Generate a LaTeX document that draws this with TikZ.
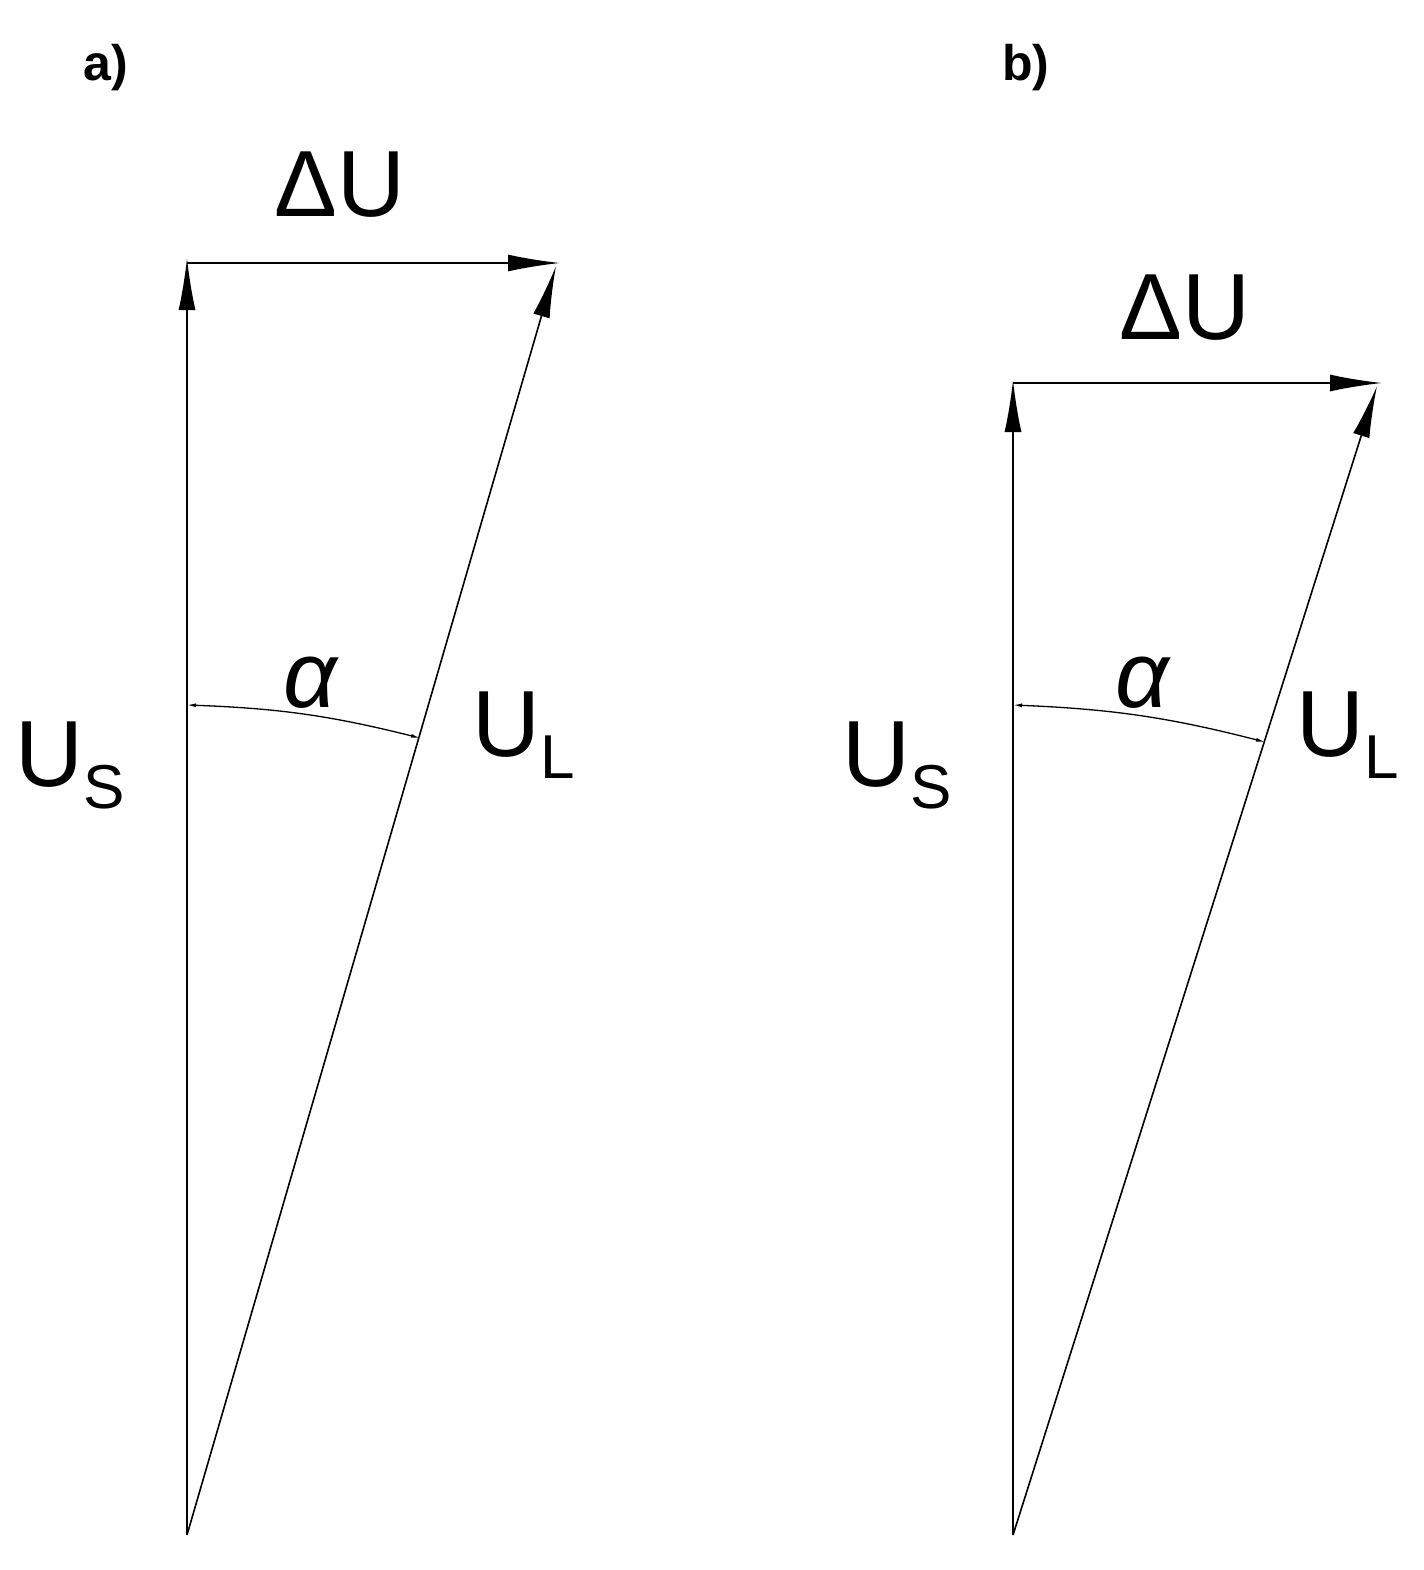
\documentclass[tikz,border=0pt]{standalone}
\usepackage{fontspec}
\setmainfont{Liberation Sans}
\usetikzlibrary{arrows.meta}
\begin{document}
\begin{tikzpicture}[x=1pt,y=-1pt,
  vec/.style={line width=1.6pt,-{Latex[length=52pt,width=17pt]}},
  arcs/.style={line width=1.3pt,{Latex[length=9pt,width=4pt]}-{Latex[length=9pt,width=4pt]}},
  big/.style={font=\fontsize{94}{98}\selectfont,inner sep=0pt},
  lab/.style={font=\bfseries\fontsize{50}{54}\selectfont,inner sep=0pt}]
\useasboundingbox (0,0) rectangle (1423,1570);
% a
\coordinate (oa) at (187,1535);
\coordinate (ta) at (187,258);
\coordinate (ha) at (187,263);
\coordinate (ea) at (560,263);
\coordinate (ua) at (556,266);
\draw[vec] (oa) -- (ta);
\draw[vec] (ha) -- (ea);
\draw[vec] (oa) -- (ua);
\coordinate (a1) at (187,705);
\coordinate (a2) at (420,738);
\draw[arcs] (a1) to[bend left=6] (a2);
\node[lab] (la) at (106,68) {a)};
\node[big] (du1) at (340,185) {ΔU};
\node[big] (al1) at (310,683) {\itshape α};
\node[big,anchor=west] (us1) at (15,765) {U\raisebox{-22pt}{\fontsize{62}{64}\selectfont S}};
\node[big,anchor=west] (ul1) at (472,735) {U\raisebox{-22pt}{\fontsize{62}{64}\selectfont L}};
% b
\coordinate (ob) at (1013,1535);
\coordinate (tb) at (1013,380);
\coordinate (hb) at (1013,383);
\coordinate (eb) at (1382,383);
\coordinate (ub) at (1377,386);
\draw[vec] (ob) -- (tb);
\draw[vec] (hb) -- (eb);
\draw[vec] (ob) -- (ub);
\coordinate (b1) at (1013,705);
\coordinate (b2) at (1265,742);
\draw[arcs] (b1) to[bend left=6] (b2);
\node[lab] (lb) at (1026,68) {b)};
\node[big] (du2) at (1185,308) {ΔU};
\node[big] (al2) at (1142,683) {\itshape α};
\node[big,anchor=west] (us2) at (842,765) {U\raisebox{-22pt}{\fontsize{62}{64}\selectfont S}};
\node[big,anchor=west] (ul2) at (1296,735) {U\raisebox{-22pt}{\fontsize{62}{64}\selectfont L}};
\end{tikzpicture}
\end{document}
